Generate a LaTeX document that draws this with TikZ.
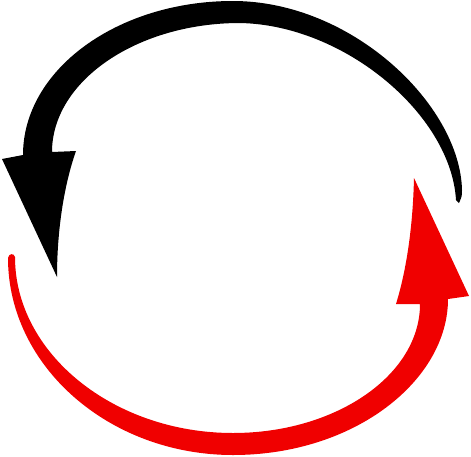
\documentclass[tikz,border=0pt]{standalone}
\begin{document}
\begin{tikzpicture}[x=1pt,y=-1pt]
\definecolor{arrred}{RGB}{240,0,0}
\useasboundingbox (0,0) rectangle (471,456);
% black arrow (top)
\fill[black] (459,203) .. controls (462,196) .. (462,190)
  .. controls (460,105) and (352,1) .. (233,1)
  .. controls (117,1) and (23,70) .. (23,155)
  -- (2,159) -- (57,277)
  .. controls (57,230) and (64,185) .. (76,151)
  -- (52,152)
  .. controls (52,81) and (137,23) .. (240,23)
  .. controls (345,25) and (451,115) .. (456,200)
  -- cycle;
% red arrow (bottom)
\fill[arrred] (15,257)
  .. controls (15,353) and (113,433) .. (233,433)
  .. controls (336,433) and (420,375) .. (420,304)
  -- (396,304)
  .. controls (408,265) and (413,220) .. (414,178)
  -- (469,296) -- (448,299)
  .. controls (448,380) and (355,455) .. (233,455)
  .. controls (109,455) and (8,366) .. (8,258)
  .. controls (9,253) and (14,253) .. (15,257)
  -- cycle;
\end{tikzpicture}
\end{document}
